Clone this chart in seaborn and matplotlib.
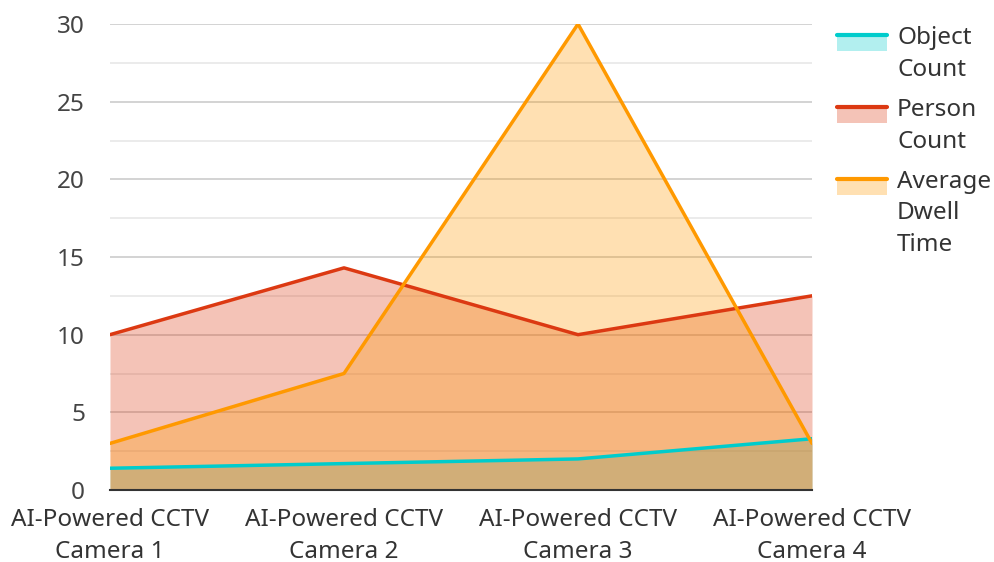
import matplotlib
matplotlib.use("Agg")
import matplotlib.pyplot as plt
import seaborn as sns
import pandas as pd
from matplotlib.legend_handler import HandlerBase
from matplotlib.patches import Rectangle
from matplotlib.lines import Line2D

# data
cameras = ["AI-Powered CCTV\nCamera 1", "AI-Powered CCTV\nCamera 2",
           "AI-Powered CCTV\nCamera 3", "AI-Powered CCTV\nCamera 4"]
object_count = [1.4, 1.7, 2.0, 3.3]
person_count = [10, 14.3, 10, 12.5]
avg_dwell = [3.0, 7.5, 30, 3.0]

series = ["Object\nCount", "Person\nCount", "Average\nDwell\nTime"]
colors = ["#00cccc", "#dc3912", "#ff9900"]

df = pd.DataFrame({
    "x": list(range(4)) * 3,
    "value": object_count + person_count + avg_dwell,
    "series": [series[0]] * 4 + [series[1]] * 4 + [series[2]] * 4,
})

FS = 17.5
LS = 1.43

sns.set_theme(style="white")
plt.rcParams["font.family"] = ["Noto Sans", "DejaVu Sans"]

fig = plt.figure(figsize=(9.94, 5.62), dpi=100)
ax = fig.add_axes([110 / 994, 1 - 490 / 562, 702 / 994, 466 / 562])

# fills first, then lines on top
for s, c in zip(series, colors):
    d = df[df["series"] == s]
    ax.fill_between(d["x"], 0, d["value"], color=c, alpha=0.3, linewidth=0, zorder=2)
sns.lineplot(data=df, x="x", y="value", hue="series", palette=colors,
             linewidth=2.5, ax=ax, legend=False, zorder=3)

ax.set_xlim(0, 3)
ax.set_ylim(0, 30)
ax.set_yticks(range(0, 31, 5))
ax.set_yticks([2.5, 7.5, 12.5, 17.5, 22.5, 27.5], minor=True)
ax.grid(axis="y", which="major", color="#cccccc", linewidth=1.2, zorder=1)
ax.grid(axis="y", which="minor", color="#e8e8e8", linewidth=1.2, zorder=1)
ax.set_axisbelow(True)
ax.set_xticks(range(4))
ax.set_xticklabels(cameras, linespacing=LS)
ax.tick_params(axis="y", which="both", labelsize=FS, colors="#444444", length=0, pad=18)
ax.tick_params(axis="x", labelsize=FS, colors="#333333", length=0, pad=13)
ax.set_xlabel("")
ax.set_ylabel("")
for sp in ["top", "right", "left"]:
    ax.spines[sp].set_visible(False)
ax.spines["bottom"].set_color("#333333")
ax.spines["bottom"].set_linewidth(1.5)
ax.spines["bottom"].set_zorder(5)


class AreaHandler(HandlerBase):
    # swatch aligned with the first text line
    def create_artists(self, legend, orig_handle, xdescent, ydescent,
                       width, height, fontsize, trans):
        c = orig_handle.get_color()
        nlines = orig_handle.get_label().count("\n")
        shift = nlines / 2 * fontsize * 0.92 * LS - 3.6
        y0 = -ydescent + shift
        rect = Rectangle((-xdescent, y0), width, height, facecolor=c,
                         alpha=0.3, edgecolor="none", transform=trans)
        line = Line2D([-xdescent, -xdescent + width], [y0 + height] * 2,
                      color=c, linewidth=3, transform=trans)
        return [rect, line]


handles = [Line2D([], [], color=c, label=s) for s, c in zip(series, colors)]
leg = ax.legend(handles, series, handler_map={Line2D: AreaHandler()},
                loc="upper left", bbox_to_anchor=(837 / 994, 1 - 26 / 562),
                bbox_transform=fig.transFigure, frameon=False, borderpad=0,
                borderaxespad=0, fontsize=FS, handlelength=2.05, handleheight=0.62,
                handletextpad=0.42, labelspacing=0.66)
for t in leg.get_texts():
    t.set_color("#333333")
    t.set_linespacing(LS)

fig.savefig("out.png", dpi=100)
